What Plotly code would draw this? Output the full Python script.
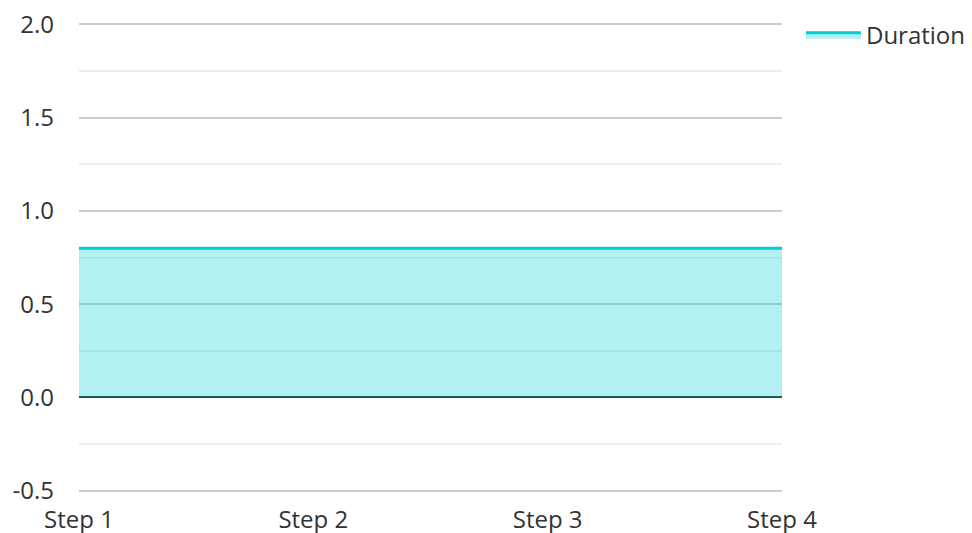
import plotly.graph_objects as go

categories = ["Step 1", "Step 2", "Step 3", "Step 4"]
duration = [0.8, 0.8, 0.8, 0.8]
series_name = "Duration"
y_tick_values = [-0.5, 0.0, 0.5, 1.0, 1.5, 2.0]
y_tick_labels = ["-0.5", "0.0", "0.5", "1.0", "1.5", "2.0"]

fig = go.Figure()
fig.add_trace(go.Scatter(
    x=categories, y=duration, name=series_name, mode="lines",
    line=dict(color="#00CED1", width=3),
    fill="tozeroy", fillcolor="rgba(0,206,209,0.3)",
))

fig.update_layout(
    width=964, height=525,
    margin=dict(l=71, r=190, t=14.7, b=40.7, autoexpand=False),
    paper_bgcolor="white", plot_bgcolor="white",
    font=dict(family="Open Sans", size=24, color="#333333"),
    showlegend=True,
    legend=dict(x=1.027, y=1.022, xanchor="left", yanchor="top",
                itemwidth=55,
                font=dict(size=24, color="#333333"), bgcolor="rgba(0,0,0,0)"),
    xaxis=dict(range=[0, 3], showgrid=False, zeroline=False, showline=False,
               ticks="", automargin=False, ticklabelstandoff=11,
               ticklabeloverflow="allow",
               tickfont=dict(size=24, color="#333333")),
    yaxis=dict(range=[-0.507, 2.007],
               tickmode="array", tickvals=y_tick_values, ticktext=y_tick_labels,
               showgrid=True, gridcolor="#cccccc", gridwidth=1.5,
               zeroline=True, zerolinecolor="#333333", zerolinewidth=2,
               showline=False, ticks="", automargin=False, ticklabelstandoff=24,
               ticklabeloverflow="allow",
               tickfont=dict(size=24, color="#333333"),
               minor=dict(dtick=0.25, tick0=0, showgrid=True, gridcolor="#eeeeee", gridwidth=1.5)),
)

fig.write_html("out.html")
